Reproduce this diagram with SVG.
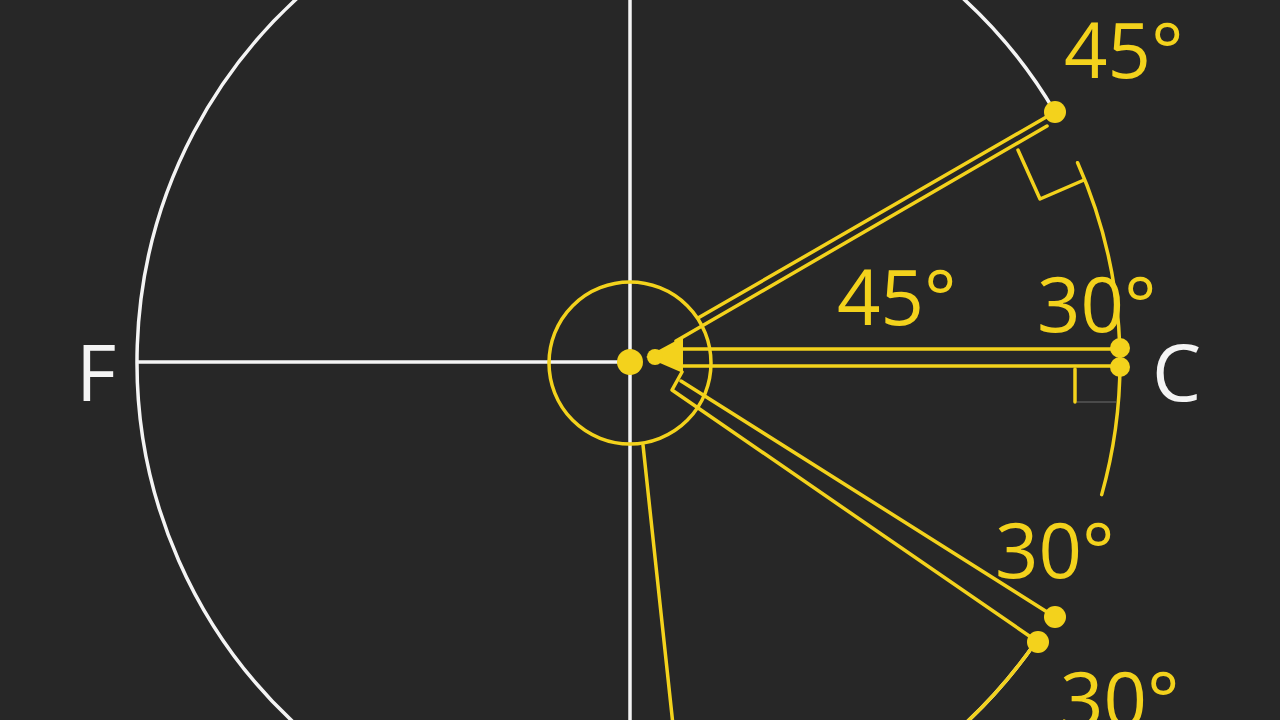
<svg xmlns="http://www.w3.org/2000/svg" width="1280" height="720" viewBox="0 0 1280 720">
<style>
.w{fill:none;stroke:#f4f4f4;stroke-width:3.5}
.y{fill:none;stroke:#f3d21c;stroke-width:3.5;stroke-linecap:round;stroke-linejoin:round}
.yf{fill:#f3d21c}
.ty{font-family:"Open Sans","Noto Sans",sans-serif;font-size:76px;fill:#f3d21c}
.tw{font-family:"Open Sans","Noto Sans",sans-serif;font-size:78px;fill:#f4f4f4}
</style>
<rect width="1280" height="720" fill="#272727"/>
<g id="axes">
<path class="w" d="M1036.3,641.2 A493,493 0 1 1 1054.8,111.8"/>
<line class="w" x1="630" y1="0" x2="630" y2="720"/>
<line class="w" x1="137" y1="362" x2="630" y2="362"/>
</g>
<g id="connectors">
<circle class="y" cx="630" cy="363" r="81"/>
<line class="y" x1="682" y1="349" x2="1120" y2="349"/>
<line class="y" x1="682" y1="366" x2="1120" y2="366"/>
<line class="y" x1="698" y1="318" x2="1055" y2="112"/>
<line class="y" x1="676" y1="341" x2="1047" y2="126"/>
<polyline class="y" points="682,372 672,390 1038,642"/>
<line class="y" x1="681" y1="381" x2="1055" y2="617"/>
<line class="y" x1="643" y1="445" x2="673" y2="725"/>
<path class="y" d="M1077.6,162.7 A490,490 0 0 1 1101.7,494.6"/>
<path class="y" d="M1036.3,641.2 A493,493 0 0 1 946.9,739.7"/>
<polyline class="y" points="1018,150 1040,199 1084,180"/>
<line class="y" x1="1075" y1="369" x2="1075" y2="402" stroke-width="3"/>
<line x1="1077" y1="402" x2="1116" y2="402" stroke="#4a4a4a" stroke-width="2"/>
</g>
<g id="center">
<circle class="yf" cx="630" cy="362" r="13"/>
<path class="yf" d="M646,357 L683,337 L683,373 Z"/>
<circle class="yf" cx="655" cy="357" r="8"/>
</g>
<g id="dots">
<circle class="yf" cx="1055" cy="112" r="11"/>
<circle class="yf" cx="1120" cy="348" r="10"/>
<circle class="yf" cx="1120" cy="367" r="10"/>
<circle class="yf" cx="1055" cy="617" r="11"/>
<circle class="yf" cx="1038" cy="642" r="11"/>
</g>
<g id="labels">
<text class="tw" x="76" y="401">F</text>
<text class="tw" x="1152" y="401">C</text>
<text class="ty" x="1064" y="78">45°</text>
<text class="ty" x="837" y="325">45°</text>
<text class="ty" x="1037" y="332">30°</text>
<text class="ty" x="995" y="578">30°</text>
<text class="ty" x="1060" y="727">30°</text>
</g>
</svg>
